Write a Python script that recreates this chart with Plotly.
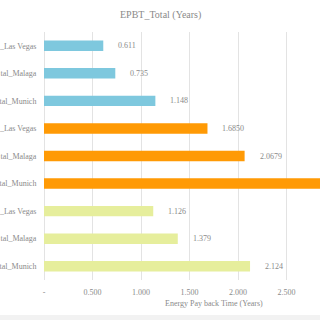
import plotly.graph_objects as go

categories = [
    "Mono_EPBT_Total_Las Vegas", "Mono_EPBT_Total_Malaga", "Mono_EPBT_Total_Munich",
    "Poly_EPBT_Total_Las Vegas", "Poly_EPBT_Total_Malaga", "Poly_EPBT_Total_Munich",
    "Thin_EPBT_Total_Las Vegas", "Thin_EPBT_Total_Malaga", "Thin_EPBT_Total_Munich",
]
tick_labels = ["_Las Vegas", "tal_Malaga", "tal_Munich"] * 3
values = [0.611, 0.735, 1.148, 1.6850, 2.0679, 2.9500, 1.126, 1.379, 2.124]
labels = ["0.611", "0.735", "1.148", "1.6850", "2.0679", "2.9500", "1.126", "1.379", "2.124"]
colors = ["#7EC8DE"] * 3 + ["#FF9A05"] * 3 + ["#E6EE9C"] * 3
tick_vals = [0, 0.5, 1.0, 1.5, 2.0, 2.5]
tick_text = ["-", "0.500", "1.000", "1.500", "2.000", "2.500"]

FONT = "Times New Roman, Liberation Serif, serif"
GRAY = "#8a8a8a"

fig = go.Figure()
fig.add_trace(go.Bar(
    x=values, y=categories, orientation="h",
    marker=dict(color=colors, line=dict(width=0)),
    width=0.38, hoverinfo="skip",
))

for v, c, t in zip(values, categories, labels):
    fig.add_annotation(x=v, y=c, text=t, showarrow=False, xanchor="left",
                       xshift=13, font=dict(family=FONT, size=8, color=GRAY))

fig.add_annotation(text="EPBT_Total (Years)", xref="paper", yref="paper",
                   x=(160 - 44) / 276, y=1 + (32 - 15) / 248, showarrow=False,
                   xanchor="center", yanchor="middle",
                   font=dict(family=FONT, size=10, color=GRAY))
fig.add_annotation(text="Energy Pay back Time (Years)", xref="paper", yref="paper",
                   x=(214 - 44) / 276, y=-(303 - 280) / 248, showarrow=False,
                   xanchor="center", yanchor="middle",
                   font=dict(family=FONT, size=8, color=GRAY))

fig.update_layout(
    width=320, height=320,
    margin=dict(l=44, r=0, t=32, b=40, autoexpand=False),
    paper_bgcolor="white", plot_bgcolor="white",
    showlegend=False,
    xaxis=dict(range=[0, 2.845], tickvals=tick_vals, ticktext=tick_text,
               showgrid=True, gridcolor="#e3e3e3", gridwidth=1,
               zeroline=True, zerolinecolor="#e3e3e3", zerolinewidth=1,
               showline=False, ticks="outside", ticklen=4, tickcolor="rgba(0,0,0,0)",
               tickfont=dict(family=FONT, size=8, color=GRAY), automargin=False),
    yaxis=dict(autorange="reversed", showgrid=False, zeroline=False, showline=False,
               tickvals=categories, ticktext=tick_labels,
               ticks="outside", ticklen=5, tickcolor="rgba(0,0,0,0)",
               tickfont=dict(family=FONT, size=8, color=GRAY), automargin=False),
)

fig.add_shape(type="rect", xref="paper", yref="paper",
              x0=-0.2, x1=1.2, y0=-(315 - 280) / 248, y1=-(321 - 280) / 248,
              fillcolor="#f2f2f2", line=dict(width=0), layer="below")

fig.write_html("out.html")
